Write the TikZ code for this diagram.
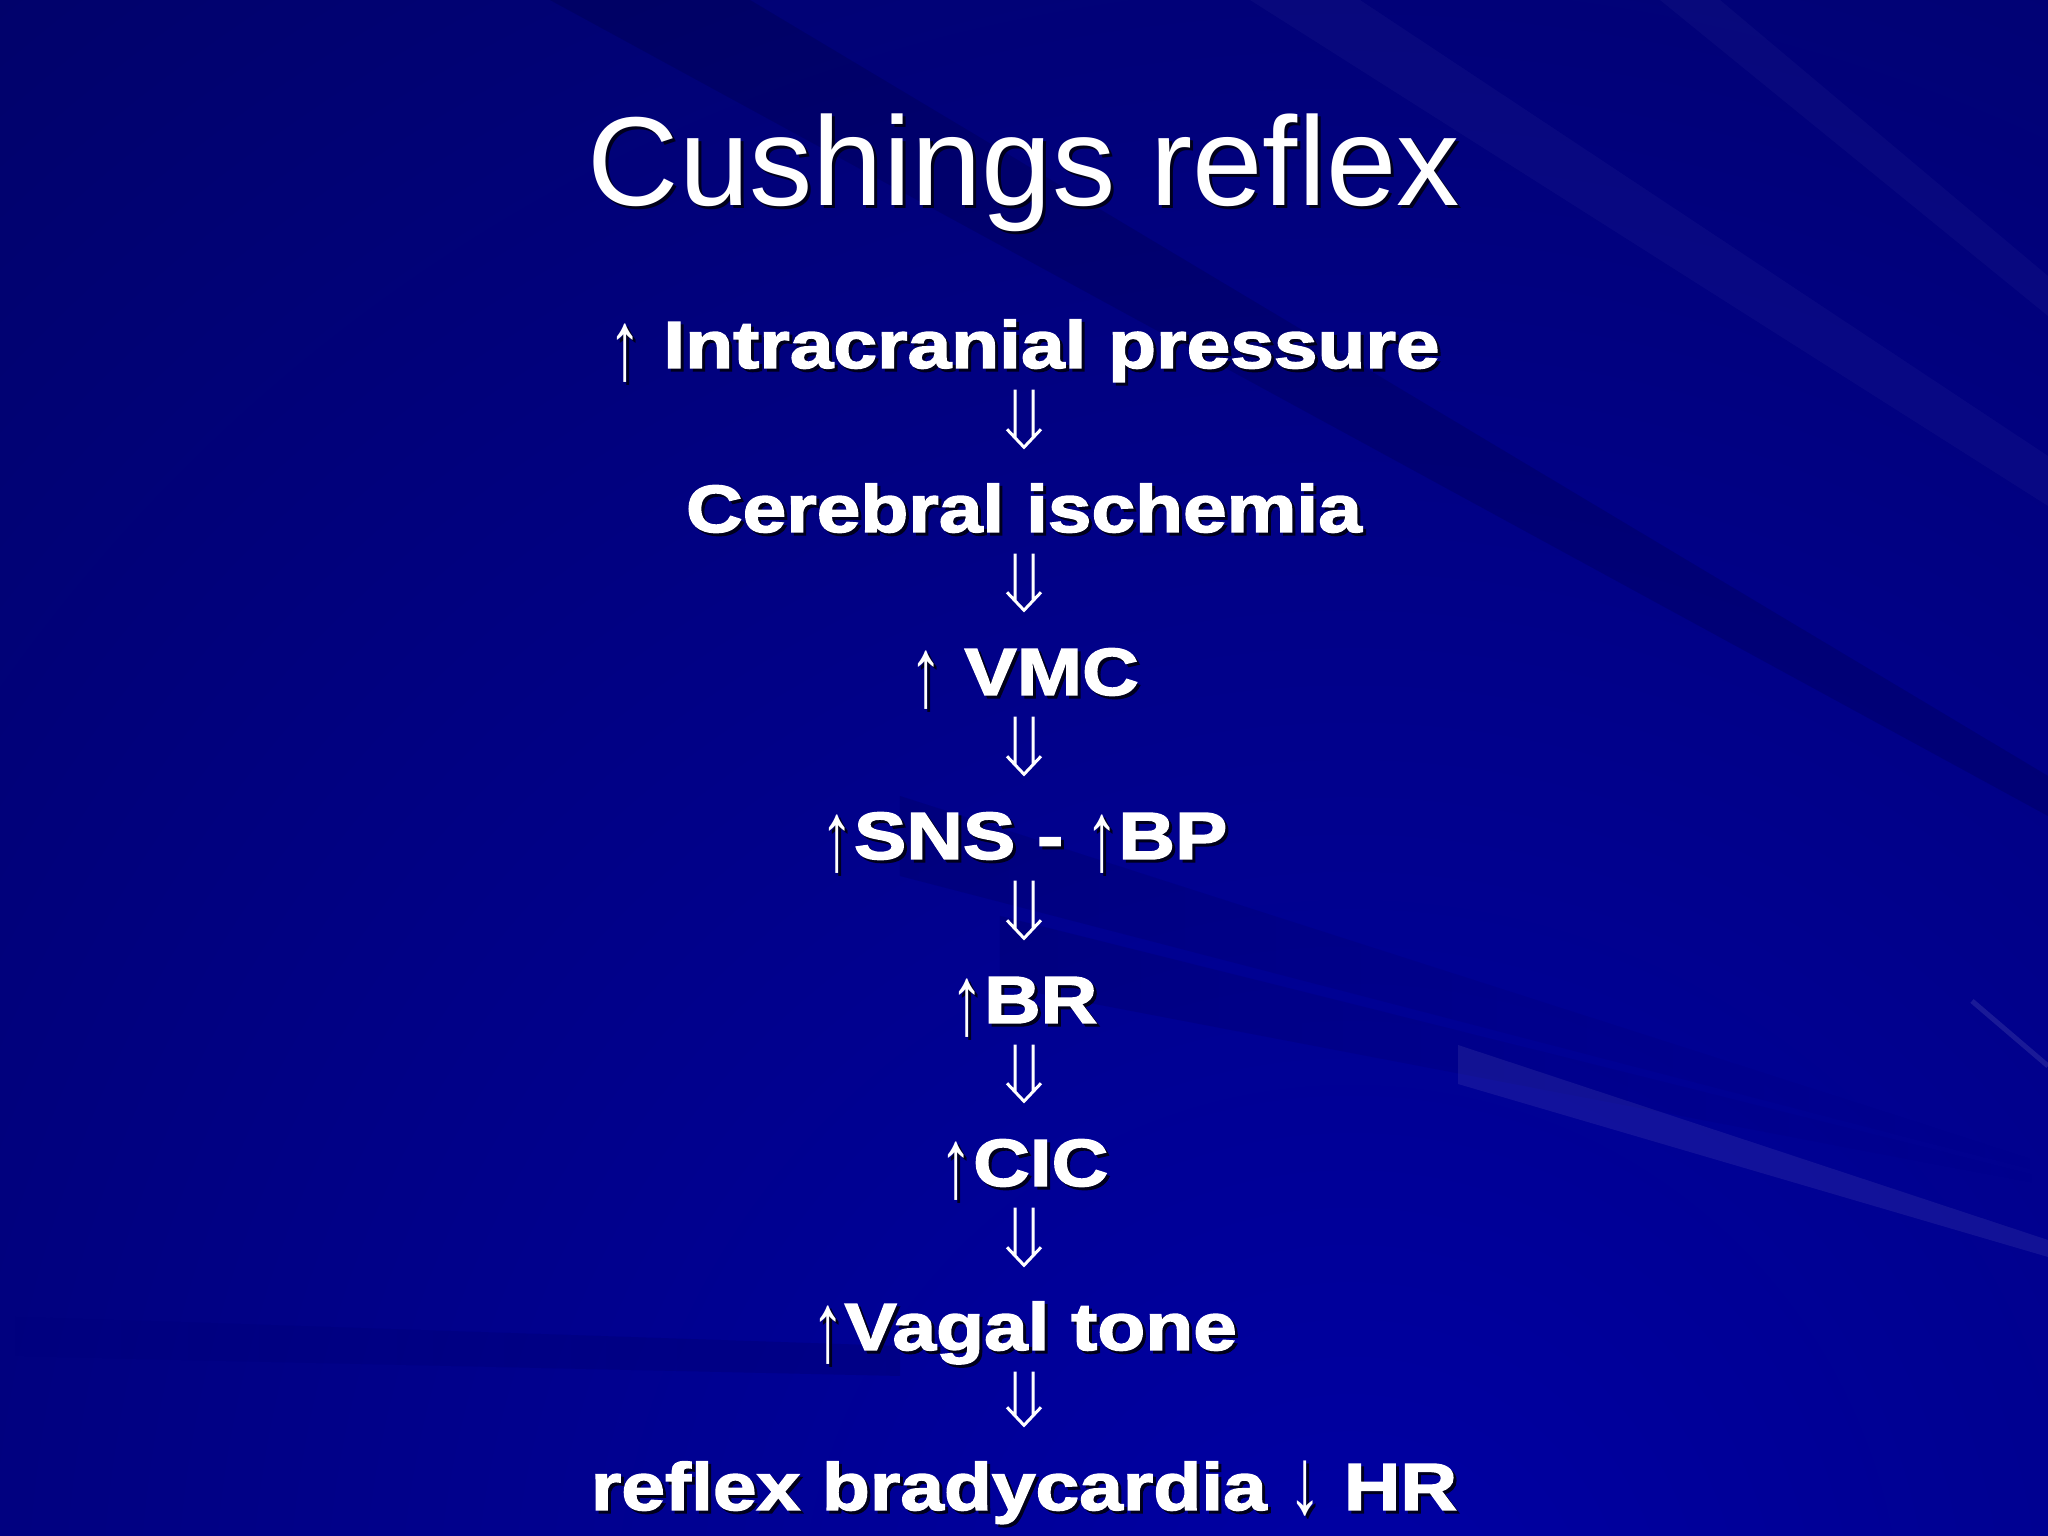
\documentclass[tikz,border=0pt]{standalone}
\usepackage{fontspec}
\setmainfont{Liberation Sans}
\newfontfamily\heavyfont[UprightFont={* Bold},FakeStretch=1.175,FakeBold=2.2]{Liberation Sans}
\usetikzlibrary{calc, fadings}
\definecolor{bgdark}{RGB}{3,4,46}
\definecolor{bglight}{RGB}{0,0,164}
\definecolor{shadowc}{RGB}{0,0,28}
% text with a small drop shadow
\newcommand{\shd}[1]{\rlap{\color{shadowc}\hspace*{0.03cm}\raisebox{-0.03cm}{#1}}#1}
% thin tall arrows as in the slide
\newcommand{\uparr}{\raisebox{-0.12cm}{\scalebox{1}[1.48]{\normalfont ↑}}}
\newcommand{\dnarr}{\raisebox{-0.04cm}{\scalebox{1}[1.40]{\normalfont ↓}}}
\tikzset{
    ttl/.style = {text=white, inner sep=0, anchor=base,
                  font=\fontsize{36pt}{40pt}\selectfont},
    lvl/.style = {text=white, inner sep=0, anchor=base,
                  text height=0.49cm, text depth=0.14cm,
                  font=\heavyfont\fontsize{19pt}{22pt}\selectfont},
    %double arrow between two lines
    dbl/.style = {draw=white, line width=0.03cm, to path={
        ($(\tikztostart)+(-0.09,-0.07)$) -- ($(\tikztotarget)+(-0.09,0.445)$)
        ($(\tikztostart)+(0.09,-0.07)$) -- ($(\tikztotarget)+(0.09,0.445)$)
        ($(\tikztotarget)+(-0.17,0.53)$) -- ($(\tikztotarget)+(0,0.35)$)
          -- ($(\tikztotarget)+(0.17,0.53)$)}},
}
\begin{document}
\begin{tikzpicture}
  \useasboundingbox (0,0) rectangle (20.48,15.36);
  % background
  \begin{scope}
    \clip (0,0) rectangle (20.48,15.36);
    \shade[inner color=bglight, outer color=bgdark] (13.5,-1) circle (44);
    \fill[black, fill opacity=0.12] (5.5,15.36) -- (7.5,15.36) -- (20.48,7.6) -- (20.48,7.2) -- cycle;
    \fill[white, fill opacity=0.03] (12.5,15.36) -- (13.6,15.36) -- (20.48,10.8) -- (20.48,10.3) -- cycle;
    \fill[white, fill opacity=0.03] (16.6,15.36) -- (17.2,15.36) -- (20.48,12.6) -- (20.48,12.2) -- cycle;
    \fill[black, fill opacity=0.1, path fading=east] (9,7.4) -- (20.48,3.72) -- (20.48,3.62) -- (9,6.6) -- cycle;
    \fill[black, fill opacity=0.1, path fading=east] (10,6.2) -- (20.48,3.58) -- (20.48,3.5) -- (10,5.5) -- cycle;
    \fill[white, fill opacity=0.07] (14.58,4.91) -- (20.48,2.96) -- (20.48,2.79) -- (14.58,4.52) -- cycle;
    \draw[white, opacity=0.1, line width=0.05cm] (19.72,5.35) -- (20.48,4.70);
    \fill[black, fill opacity=0.1, path fading=west] (0,2.2) -- (9,1.9) -- (9,1.6) -- (0,1.8) -- cycle;
  \end{scope}

  \node[ttl] (title) at (10.24,13.30) {\shd{Cushings reflex}};

  \node[lvl] (icp)   at (10.24,11.68) {\shd{\uparr{} Intracranial pressure}};
  \node[lvl] (isch)  at (10.24,10.04) {\shd{Cerebral ischemia}};
  \node[lvl] (vmc)   at (10.24,8.41)  {\shd{\uparr{} VMC}};
  \node[lvl] (sns)   at (10.24,6.77)  {\shd{\uparr{}SNS - \uparr{}BP}};
  \node[lvl] (br)    at (10.24,5.13)  {\shd{\uparr{}BR}};
  \node[lvl] (cic)   at (10.24,3.50)  {\shd{\uparr{}CIC}};
  \node[lvl] (vagal) at (10.24,1.86)  {\shd{\uparr{}Vagal tone}};
  \node[lvl] (brady) at (10.24,0.26)  {\shd{reflex bradycardia \dnarr{} HR}};

  \draw[dbl] (icp.south) to (isch.north);
  \draw[dbl] (isch.south) to (vmc.north);
  \draw[dbl] (vmc.south) to (sns.north);
  \draw[dbl] (sns.south) to (br.north);
  \draw[dbl] (br.south) to (cic.north);
  \draw[dbl] (cic.south) to (vagal.north);
  \draw[dbl] (vagal.south) to (brady.north);
\end{tikzpicture}
\end{document}
